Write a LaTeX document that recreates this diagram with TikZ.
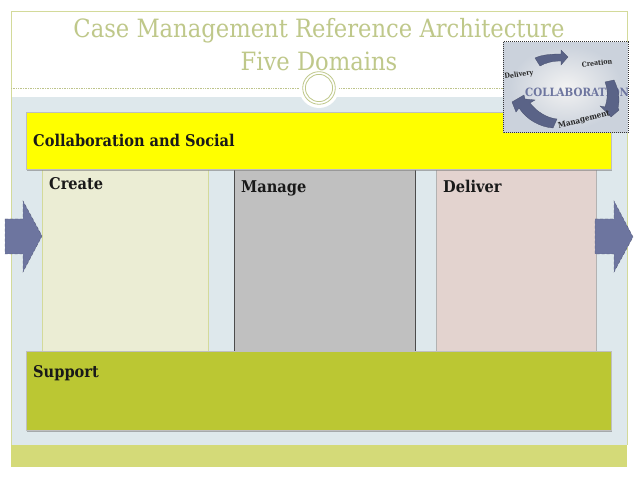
\documentclass[tikz,border=0pt]{standalone}
\usepackage{fontspec}
\setmainfont{DejaVu Serif Condensed}
\definecolor{olivetxt}{HTML}{BFC88A}
\definecolor{frameol}{HTML}{D3DA9A}
\definecolor{panelbg}{HTML}{DEE8EC}
\definecolor{band}{HTML}{D4DA78}
\definecolor{createfill}{HTML}{EBEDD4}
\definecolor{managefill}{HTML}{C0C0C0}
\definecolor{deliverfill}{HTML}{E3D3CF}
\definecolor{supportfill}{HTML}{BBC733}
\definecolor{purey}{RGB}{255,255,0}
\definecolor{arrowfill}{HTML}{6D759F}
\definecolor{insetarrow}{HTML}{5A6387}
\definecolor{insetedge}{HTML}{CBD2DC}
\tikzset{
  titletext/.style={text=olivetxt,font=\fontsize{25.2}{30}\selectfont,inner sep=0pt},
  labeltext/.style={font=\fontsize{16.2}{18}\selectfont\bfseries,text=black!90,inner sep=0pt,anchor=base west},
  column/.style={draw=#1,line width=1pt},
  bar/.style={draw=black!25,line width=0.5pt},
  barshadow/.style={fill=black!50,opacity=.6},
  sidearrow/.style={fill=arrowfill,draw=arrowfill!75!black,densely dashed,line width=0.4pt},
  inarrow/.style={fill=insetarrow,draw=insetarrow!80!black,line width=0.3pt},
  insetlabel/.style={font=\fontsize{7}{8}\selectfont\bfseries,inner sep=0pt,text=black!85}
}
\begin{document}
\begin{tikzpicture}[x=1pt,y=-1pt]
\useasboundingbox (0,0) rectangle (638,478);
\fill[white] (0,0) rectangle (638,478);
% frame
\fill[panelbg] (11,97) rectangle (627,445);
\fill[band] (11,445) rectangle (627,467);
\draw[frameol,line width=0.9pt] (11,445) -- (11,11) -- (627,11) -- (627,445);
\coordinate (dl) at (11,88);
\coordinate (dr) at (627,88);
\draw[frameol!90!black,densely dotted,line width=0.7pt] (dl) -- (dr);
% medallion
\fill[white] (319,88) circle (20);
\draw[olivetxt,line width=0.8pt] (319,88) circle (16.3);
\draw[olivetxt,line width=0.8pt] (319,88) circle (13.6);
% title
\node[titletext] (title1) at (319,31) {Case Management Reference Architecture};
\node[titletext] (title2) at (319,61) {Five Domains};
% columns
\draw[column=frameol,fill=createfill] (42,165) rectangle (208,355);
\draw[column=black!70,fill=managefill] (234,165) rectangle (415,355);
\draw[column=black!30,fill=deliverfill] (436,165) rectangle (596,355);
\node[labeltext] (create) at (49,190) {Create};
\node[labeltext] (manage) at (241,192.5) {Manage};
\node[labeltext] (deliver) at (443,192.5) {Deliver};
% side arrows
\draw[sidearrow] (5,219) -- (23,219) -- (23,201) -- (42,236) -- (23,272) -- (23,254) -- (5,254) -- cycle;
\draw[sidearrow] (595,219) -- (614,219) -- (614,201) -- (633,237) -- (614,272) -- (614,254) -- (595,254) -- cycle;
% bars
\fill[barshadow] (27,113) rectangle (612,171.5);
\filldraw[bar,fill=purey] (26,112) rectangle (611,169);
\node[labeltext] (collab) at (33,147) {Collaboration and Social};
\fill[barshadow] (27,352) rectangle (612,432.5);
\filldraw[bar,fill=supportfill] (26,351) rectangle (611,430);
\node[labeltext] (support) at (33,378) {Support};
% inset
\begin{scope}
\clip (503,42) rectangle (628,133);
\fill[insetedge] (503,42) rectangle (628,133);
\shade[inner color=black!5,outer color=insetedge] (510,45) rectangle (622,130);
\node[font=\fontsize{11.4}{14}\selectfont\bfseries,text=arrowfill,inner sep=0pt,anchor=base west] (collabinset) at (525,97) {COLLABORATION};
\end{scope}
\draw[black!80,densely dotted,line width=1pt] (503,42) rectangle (628,133);
\draw[inarrow] (535,58) .. controls (541,55) and (550,54) .. (561,54) -- (561,50) -- (568,57) -- (561,65) -- (561,61) .. controls (552,61) and (545,63) .. (540,66) -- cycle;
\draw[inarrow] (605,82) -- (614,80) .. controls (619,90) and (620,100) .. (618,108) -- (619,110) -- (611,117) -- (600,106) -- (605,107) .. controls (608,98) and (608,90) .. (605,82) -- cycle;
\draw[inarrow] (512,102) -- (524,95) -- (525,99) -- (535,100) -- (530,103) .. controls (537,112) and (547,118) .. (557,119) -- (553,128) .. controls (540,127) and (527,120) .. (519,108) -- (516,112) -- cycle;
\node[insetlabel,rotate=6] (creation) at (597,63) {Creation};
\node[insetlabel,rotate=8] (delivery) at (519,75) {Delivery};
\node[insetlabel,rotate=14,font=\fontsize{8}{10}\selectfont\bfseries] (mgmt) at (584,120) {Management};
\end{tikzpicture}
\end{document}
